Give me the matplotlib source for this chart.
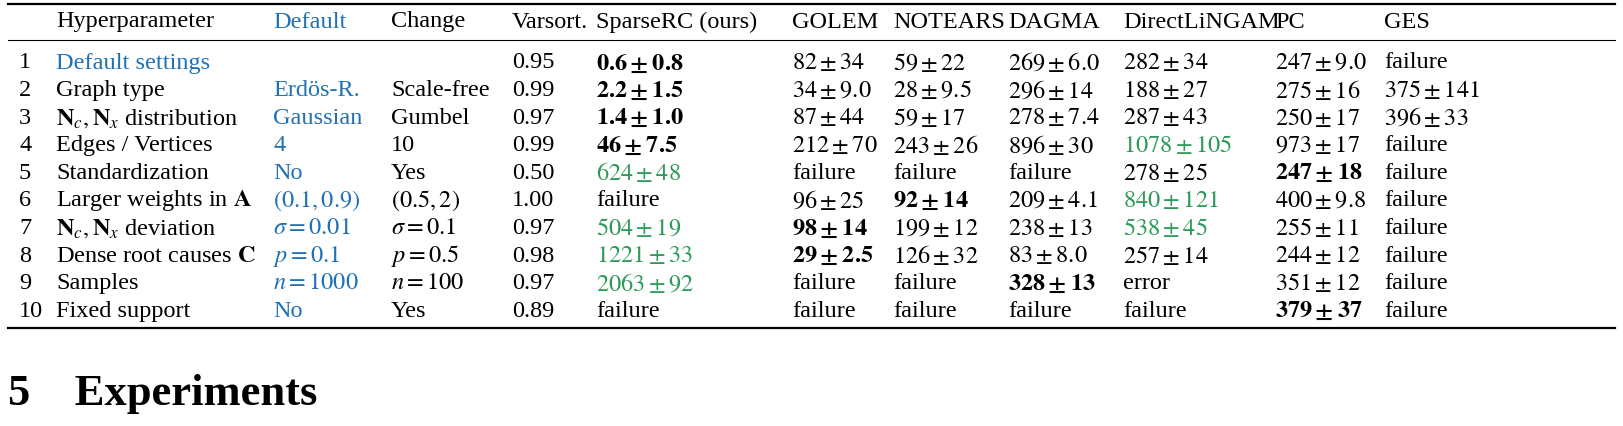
import matplotlib
matplotlib.use("Agg")
import matplotlib.pyplot as plt

plt.rcParams['font.family'] = ['Liberation Serif', 'DejaVu Serif']
plt.rcParams['mathtext.fontset'] = 'stix'

headers = ["", "Hyperparameter", "Default", "Change", "Varsort.", "SparseRC (ours)", "GOLEM",
           "NOTEARS", "DAGMA", "DirectLiNGAM", "PC", "GES"]
row_ids = [str(i) for i in range(1, 11)]
hyper = ["Default settings", "Graph type", r"$\mathbf{N}_c, \mathbf{N}_x$ distribution", "Edges / Vertices",
         "Standardization", r"Larger weights in $\mathbf{A}$", r"$\mathbf{N}_c, \mathbf{N}_x$ deviation",
         r"Dense root causes $\mathbf{C}$", "Samples", "Fixed support"]
default = ["", "Erdös-R.", "Gaussian", "4", "No", r"$(0.1, 0.9)$", r"$\sigma = 0.01$", r"$p = 0.1$",
           r"$n = 1000$", "No"]
change = ["", "Scale-free", "Gumbel", "10", "Yes", r"$(0.5, 2)$", r"$\sigma = 0.1$", r"$p = 0.5$",
          r"$n = 100$", "Yes"]
varsort = ["0.95", "0.99", "0.97", "0.99", "0.50", "1.00", "0.97", "0.98", "0.97", "0.89"]
sparserc = ["0.6|0.8", "2.2|1.5", "1.4|1.0", "46|7.5", "624|48", "failure", "504|19", "1221|33", "2063|92", "failure"]
golem = ["82|34", "34|9.0", "87|44", "212|70", "failure", "96|25", "98|14", "29|2.5", "failure", "failure"]
notears = ["59|22", "28|9.5", "59|17", "243|26", "failure", "92|14", "199|12", "126|32", "failure", "failure"]
dagma = ["269|6.0", "296|14", "278|7.4", "896|30", "failure", "209|4.1", "238|13", "83|8.0", "328|13", "failure"]
lingam = ["282|34", "188|27", "287|43", "1078|105", "278|25", "840|121", "538|45", "257|14", "error", "failure"]
pc = ["247|9.0", "275|16", "250|17", "973|17", "247|18", "400|9.8", "255|11", "244|12", "351|12", "379|37"]
ges = ["failure", "375|141", "396|33", "failure", "failure", "failure", "failure", "failure", "failure", "failure"]

bold_cells = {(0, 5), (1, 5), (2, 5), (3, 5), (4, 10), (5, 7), (6, 6), (7, 6), (8, 8), (9, 10)}
green_cells = {(4, 5), (5, 9), (6, 5), (6, 9), (7, 5), (8, 5), (3, 9)}

BLUE = "#2171b5"
GREEN = "#2e9a5a"

col_x = [19, 56, 273, 391, 512, 596, 792, 893, 1008, 1123, 1275, 1384]
head_y = 22
row_y0, row_dy = 63, 27.6
fs = 17.5

fig = plt.figure(figsize=(16.23, 4.27), dpi=100)
ax = fig.add_axes([0, 0, 1, 1])
ax.set_xlim(0, 1623)
ax.set_ylim(427, 0)
ax.axis('off')

def fmt(s, bold):
    if "|" in s:
        a, b = s.split("|")
        if bold:
            return r"$\mathbf{%s \pm %s}$" % (a, b)
        return r"$%s \pm %s$" % (a, b)
    return s

for j, h in enumerate(headers):
    ax.text(col_x[j], head_y, h, fontsize=fs, va='center', ha='left',
            color=BLUE if j == 2 else 'black')

cols = [row_ids, hyper, default, change, varsort, sparserc, golem, notears, dagma, lingam, pc, ges]
for i in range(10):
    y = row_y0 + i * row_dy
    for j, col in enumerate(cols):
        s = col[i]
        if not s:
            continue
        bold = (i, j) in bold_cells
        color = 'black'
        if j == 2 or (i == 0 and j == 1):
            color = BLUE
        if (i, j) in green_cells:
            color = GREEN
        ax.text(col_x[j], y, fmt(s, bold), fontsize=fs, va='center', ha='left', color=color)

ax.plot([8, 1615], [5, 5], color='black', lw=1.6)
ax.plot([8, 1615], [41, 41], color='black', lw=0.8)
ax.plot([8, 1615], [329, 329], color='black', lw=1.6)

ax.text(8, 394, "5    Experiments", fontsize=32, fontweight='bold', va='center', ha='left')

fig.savefig("out.png", dpi=100)
